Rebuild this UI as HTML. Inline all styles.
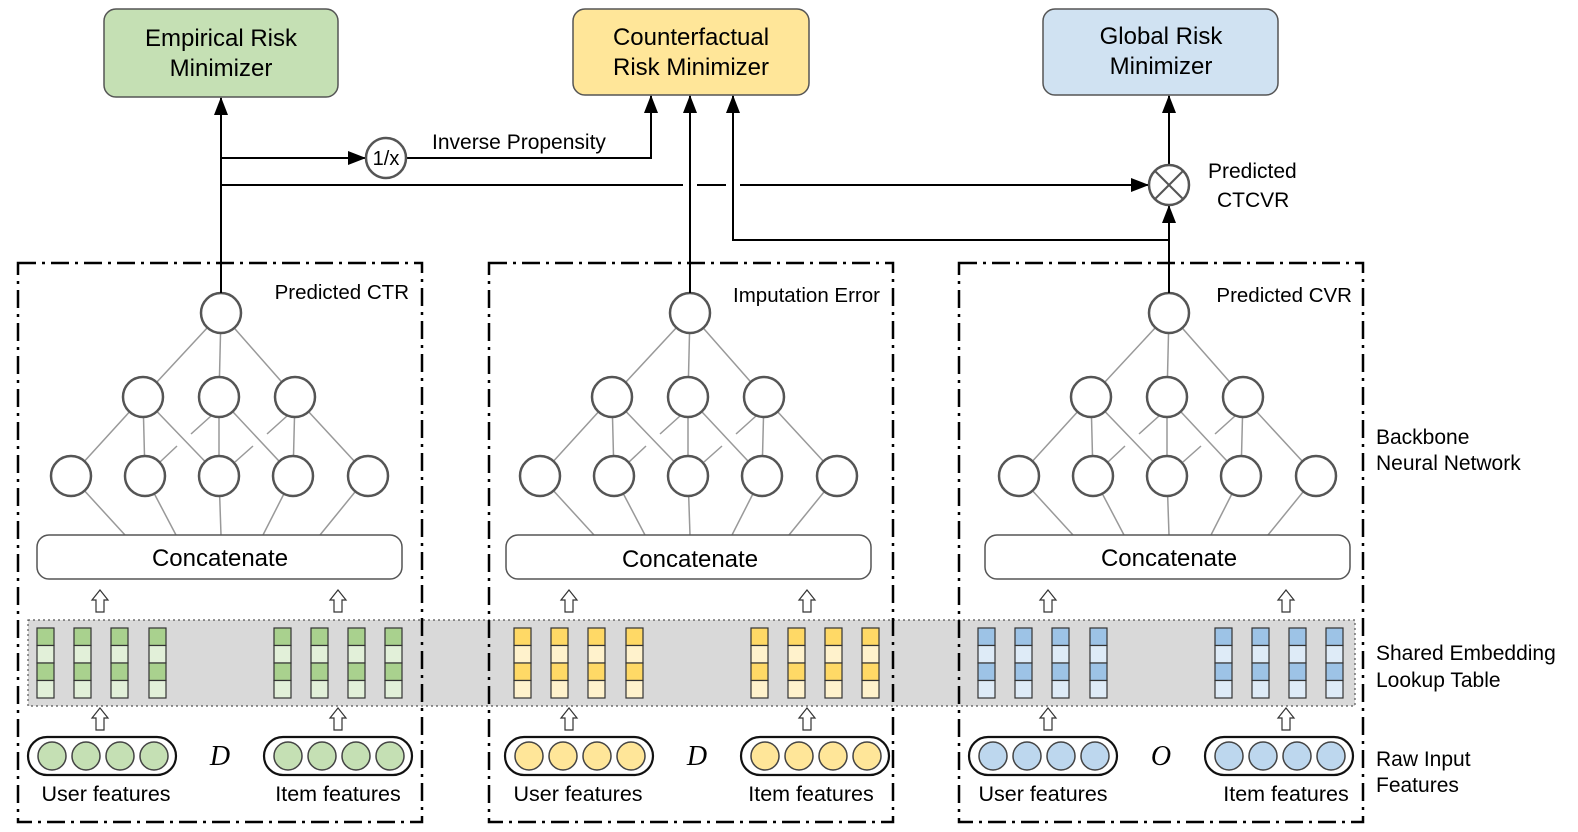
<!DOCTYPE html>
<html><head><meta charset="utf-8"><style>
html,body{margin:0;padding:0;background:#fff;}
svg{display:block;font-family:"Liberation Sans",Arial,sans-serif;}
</style></head><body>
<svg width="1578" height="832" viewBox="0 0 1578 832" xmlns="http://www.w3.org/2000/svg">
<defs>
<marker id="ah2" markerWidth="18" markerHeight="18" refX="17" refY="9" orient="auto" markerUnits="userSpaceOnUse" viewBox="0 0 18 18">
<path d="M0,2 L18,9 L0,16 z" fill="#000"/></marker>
<g id="net">
 <g stroke="#999" stroke-width="1.5" fill="none">
  <line x1="221" y1="313" x2="143" y2="397"/><line x1="221" y1="313" x2="219" y2="397"/><line x1="221" y1="313" x2="295" y2="397"/>
  <line x1="143" y1="397" x2="71" y2="476"/><line x1="143" y1="397" x2="145" y2="476"/><line x1="143" y1="397" x2="219" y2="476"/>
  <line x1="219" y1="397" x2="219" y2="476"/><line x1="219" y1="397" x2="293" y2="476"/>
  <line x1="295" y1="397" x2="293" y2="476"/><line x1="295" y1="397" x2="368" y2="476"/>
  <line x1="211" y1="416" x2="191" y2="434"/><line x1="177" y1="446" x2="160" y2="462"/>
  <line x1="287" y1="416" x2="267" y2="434"/><line x1="253" y1="446" x2="235" y2="462"/>
  <line x1="71" y1="476" x2="125" y2="535"/><line x1="145" y1="476" x2="176" y2="535"/><line x1="219" y1="476" x2="221" y2="535"/>
  <line x1="293" y1="476" x2="263" y2="535"/><line x1="368" y1="476" x2="320" y2="535"/>
 </g>
 <g stroke="#555" stroke-width="2.5" fill="#fff">
  <circle cx="221" cy="313" r="20"/>
  <circle cx="143" cy="397" r="20"/><circle cx="219" cy="397" r="20"/><circle cx="295" cy="397" r="20"/>
  <circle cx="71" cy="476" r="20"/><circle cx="145" cy="476" r="20"/><circle cx="219" cy="476" r="20"/><circle cx="293" cy="476" r="20"/><circle cx="368" cy="476" r="20"/>
 </g>
 <rect x="37" y="535" width="365" height="44" rx="12" fill="#fff" stroke="#555" stroke-width="1.5"/>
 <g fill="#fff" stroke="#333" stroke-width="1.2">
  <path d="M100,590 l8,10 h-4 v12 h-8 v-12 h-4 z"/><path d="M338,590 l8,10 h-4 v12 h-8 v-12 h-4 z"/>
  <path d="M100,708 l8,10 h-4 v12 h-8 v-12 h-4 z"/><path d="M338,708 l8,10 h-4 v12 h-8 v-12 h-4 z"/>
 </g>
</g>
<g id="col" stroke="#333" stroke-width="1.2">
 <rect x="0" y="628" width="17" height="17.5" style="fill:var(--d)"/>
 <rect x="0" y="645.5" width="17" height="17.5" style="fill:var(--l)"/>
 <rect x="0" y="663" width="17" height="17.5" style="fill:var(--d)"/>
 <rect x="0" y="680.5" width="17" height="17.5" style="fill:var(--l)"/>
</g>
<g id="emb">
 <use href="#col" x="37"/><use href="#col" x="74"/><use href="#col" x="111"/><use href="#col" x="149"/>
 <use href="#col" x="274"/><use href="#col" x="311"/><use href="#col" x="348"/><use href="#col" x="385"/>
 <g stroke="#111" stroke-width="2.2" fill="none">
  <rect x="28" y="737" width="148" height="38" rx="19"/><rect x="264" y="737" width="148" height="38" rx="19"/>
 </g>
 <g stroke="#444" stroke-width="1.5" style="fill:var(--f)">
  <circle cx="52" cy="756" r="14"/><circle cx="86" cy="756" r="14"/><circle cx="120" cy="756" r="14"/><circle cx="154" cy="756" r="14"/>
  <circle cx="288" cy="756" r="14"/><circle cx="322" cy="756" r="14"/><circle cx="356" cy="756" r="14"/><circle cx="390" cy="756" r="14"/>
 </g>
</g>
</defs>

<rect x="104" y="9" width="234" height="88" rx="12" fill="#c5e0b4" stroke="#555" stroke-width="1.5"/>
<rect x="573" y="9" width="236" height="86" rx="12" fill="#ffe699" stroke="#555" stroke-width="1.5"/>
<rect x="1043" y="9" width="235" height="86" rx="12" fill="#d0e2f2" stroke="#555" stroke-width="1.5"/>
<g font-size="24" text-anchor="middle" fill="#000">
<text x="221" y="46">Empirical Risk</text><text x="221" y="76">Minimizer</text>
<text x="691" y="45">Counterfactual</text><text x="691" y="75">Risk Minimizer</text>
<text x="1161" y="44">Global Risk</text><text x="1161" y="74">Minimizer</text>
</g>

<rect x="28" y="620" width="1327" height="86" fill="#d9d9d9" stroke="#555" stroke-width="1.2" stroke-dasharray="2,3"/>

<g fill="none" stroke="#000" stroke-width="2.5" stroke-dasharray="18,6,3,6">
<rect x="18" y="263" width="404" height="559"/>
<rect x="489" y="263" width="404" height="559"/>
<rect x="959" y="263" width="404" height="559"/>
</g>

<use href="#net"/>
<use href="#net" x="469"/>
<use href="#net" x="948"/>
<use href="#emb" style="--d:#a9d18e;--l:#e2f0d9;--f:#c5e0b4"/>
<use href="#emb" x="477" style="--d:#ffd966;--l:#fff2cc;--f:#ffe699"/>
<use href="#emb" x="941" style="--d:#9dc3e6;--l:#deebf7;--f:#bdd7ee"/>

<g font-size="24" text-anchor="middle">
<text x="220" y="566">Concatenate</text><text x="690" y="567">Concatenate</text><text x="1169" y="566">Concatenate</text>
</g>
<g font-size="21.5" text-anchor="middle">
<text x="106" y="801">User features</text><text x="338" y="801">Item features</text>
<text x="578" y="801">User features</text><text x="811" y="801">Item features</text>
<text x="1043" y="801">User features</text><text x="1286" y="801">Item features</text>
</g>
<g font-size="28" font-style="italic" font-family="'Liberation Serif',serif" text-anchor="middle">
<text x="220" y="765">D</text><text x="697" y="765">D</text><text x="1161" y="765">O</text>
</g>
<g font-size="20.5" text-anchor="end">
<text x="409" y="299">Predicted CTR</text>
<text x="880" y="302">Imputation Error</text>
<text x="1352" y="302">Predicted CVR</text>
</g>
<g font-size="21">
<text x="1376" y="444">Backbone</text><text x="1376" y="470">Neural Network</text>
<text x="1376" y="660">Shared Embedding</text><text x="1376" y="687">Lookup Table</text>
<text x="1376" y="766">Raw Input</text><text x="1376" y="792">Features</text>
<text x="1208" y="178">Predicted</text><text x="1217" y="207">CTCVR</text>
<text x="432" y="149">Inverse Propensity</text>
</g>

<g stroke="#000" stroke-width="2" fill="none">
<line x1="221" y1="293" x2="221" y2="98" marker-end="url(#ah2)"/>
<line x1="221" y1="158" x2="365" y2="158" marker-end="url(#ah2)"/>
<polyline points="407,158 651,158 651,96" marker-end="url(#ah2)"/>
<line x1="221" y1="185" x2="683" y2="185"/>
<line x1="697" y1="185" x2="726" y2="185"/>
<line x1="740" y1="185" x2="1148" y2="185" marker-end="url(#ah2)"/>
<line x1="690" y1="293" x2="690" y2="96" marker-end="url(#ah2)"/>
<polyline points="1169,240 733,240 733,96" marker-end="url(#ah2)"/>
<line x1="1169" y1="293" x2="1169" y2="206" marker-end="url(#ah2)"/>
<line x1="1169" y1="165" x2="1169" y2="96" marker-end="url(#ah2)"/>
</g>
<circle cx="386" cy="158" r="20" fill="#fff" stroke="#555" stroke-width="2.5"/>
<text x="386" y="165" font-size="20" text-anchor="middle">1/x</text>
<circle cx="1169" cy="185" r="20" fill="#fff" stroke="#555" stroke-width="2.5"/>
<g stroke="#555" stroke-width="2"><line x1="1155" y1="171" x2="1183" y2="199"/><line x1="1183" y1="171" x2="1155" y2="199"/></g>
</svg>
</body></html>
